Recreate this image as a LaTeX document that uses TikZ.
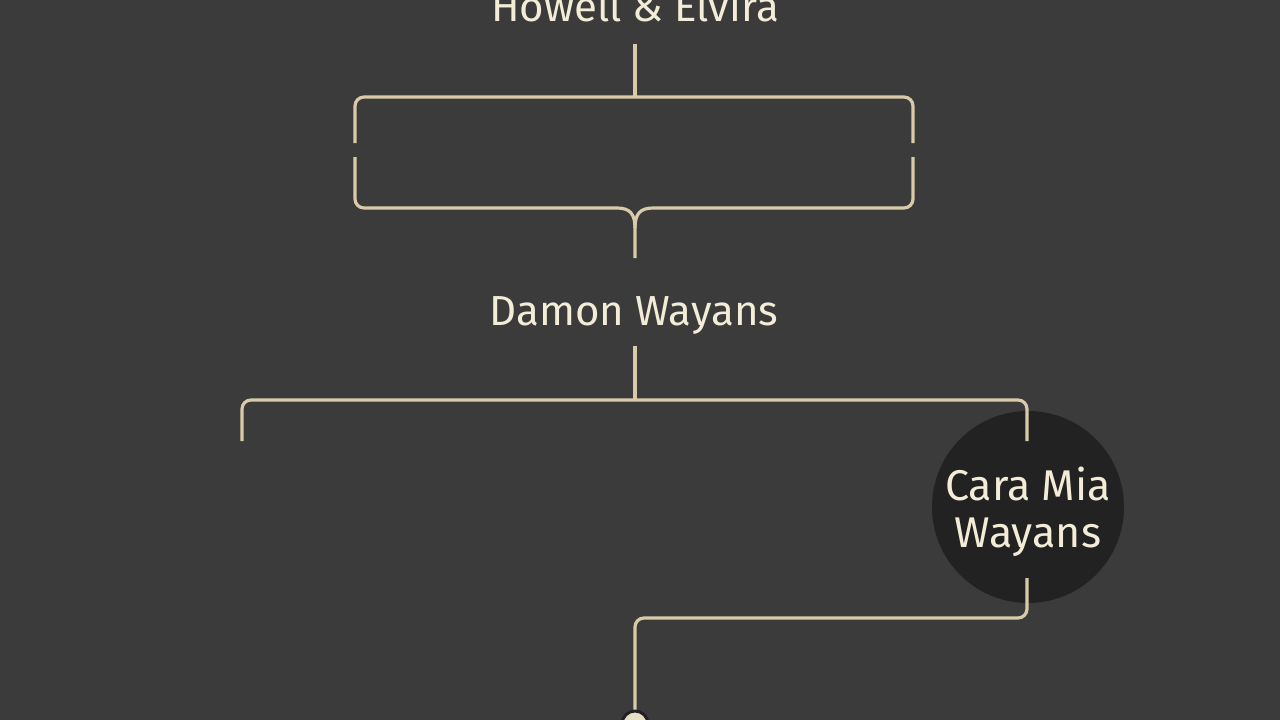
\documentclass[tikz,border=0pt]{standalone}
\usepackage{fontspec}
\setmainfont{Fira Sans}
\begin{document}
\begin{tikzpicture}[x=1pt,y=-1pt,
  link/.style={draw=linec,line width=3.2pt,rounded corners=9pt},
  lbl/.style={text=textc,font=\fontsize{42}{50}\selectfont,inner sep=0pt,align=center},
  personc/.style={circle,fill=circc,minimum size=192pt,inner sep=0pt}]
\definecolor{bgc}{HTML}{3B3B3B}
\definecolor{linec}{HTML}{D9CBA9}
\definecolor{textc}{HTML}{F3ECD6}
\definecolor{circc}{HTML}{222222}
\definecolor{dotc}{HTML}{E6DEC6}
\fill[bgc] (0,0) rectangle (1280,720);
\useasboundingbox (0,0) rectangle (1280,720);
\node[lbl,anchor=base] (he) at (635,21) {Howell \& Elvira};
\node[lbl,anchor=base] (dw) at (634,325) {Damon Wayans};
\node[personc,label={[text=textc,font=\fontsize{43}{47}\selectfont,align=center,inner sep=0pt,yshift=-5pt]center:{Cara Mia\\Wayans}}] (cm) at (1028,507) {};
\node[circle,fill=dotc,draw=circc,line width=3pt,minimum size=26pt,inner sep=0pt] (dot) at (635,724) {};
\coordinate (a1) at (635,44);
\coordinate (a2) at (635,97);
\draw[link] (a1) -- (a2);
\draw[link] (355,143) -- (355,97) -- (913,97) -- (913,143);
\coordinate (m) at (635,258);
\draw[link] (355,157) -- (355,208) -- (617,208);
\draw[link] (913,157) -- (913,208) -- (653,208);
\draw[draw=linec,line width=3.2pt] (617,208) .. controls (630,208) and (635,214) .. (635,228) -- (m);
\draw[draw=linec,line width=3.2pt] (653,208) .. controls (640,208) and (635,214) .. (635,228);
\coordinate (b1) at (635,346);
\draw[link] (b1) -- (635,400);
\draw[link] (242,441) -- (242,400) -- (1027,400) -- (1027,441);
\draw[link] (1027,578) -- (1027,618) -- (635,618) -- (dot.north);
\end{tikzpicture}
\end{document}
